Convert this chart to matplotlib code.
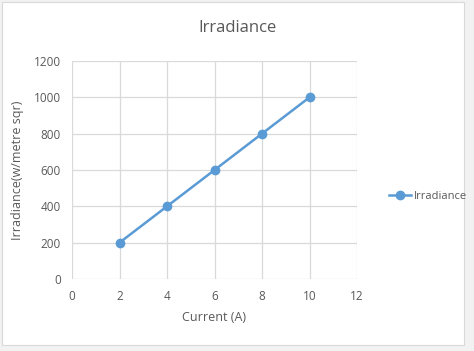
import matplotlib.pyplot as plt
from matplotlib.patches import Rectangle

current = [2, 4, 6, 8, 10]
irradiance = [200, 400, 600, 800, 1000]
x_ticks = [0, 2, 4, 6, 8, 10, 12]
y_ticks = [0, 200, 400, 600, 800, 1000, 1200]

plt.rcParams['font.family'] = ['Open Sans', 'DejaVu Sans']
text_color = '#595959'
grid_color = '#d9d9d9'
line_color = '#5b9bd5'

fig = plt.figure(figsize=(4.74, 3.51), dpi=100, facecolor='#f2f2f2')
fig.patches.append(Rectangle((2 / 474, 6 / 351), 462 / 474, 343 / 351,
                             transform=fig.transFigure, facecolor='white',
                             edgecolor='#d9d9d9', linewidth=0.8, zorder=-1))

ax = fig.add_axes([72 / 474, 1 - 279 / 351, 285 / 474, 218 / 351])
ax.set_facecolor('white')
ax.plot(current, irradiance, color=line_color, linewidth=1.8,
        marker='o', markersize=6, label='Irradiance', clip_on=False)

ax.set_xlim(0, 12)
ax.set_ylim(0, 1200)
ax.set_xticks(x_ticks)
ax.set_yticks(y_ticks)
ax.grid(True, color=grid_color, linewidth=0.9)
ax.set_axisbelow(True)
for s in ax.spines.values():
    s.set_visible(False)
ax.tick_params(length=0, labelsize=8.5, colors=text_color, pad=8)

ax.set_xlabel('Current (A)', fontsize=9, color=text_color, labelpad=6)
ax.set_ylabel('Irradiance(w/metre sqr)', fontsize=9, color=text_color, labelpad=7)
fig.text(0.5, 0.92, 'Irradiance', ha='center', va='center',
         fontsize=12, color=text_color)

fig.legend(loc='center left', bbox_to_anchor=(0.8, 0.44), frameon=False,
           fontsize=8, labelcolor=text_color, handlelength=2.0,
           handletextpad=0.2)

fig.savefig('out.png', dpi=100, facecolor=fig.get_facecolor())
